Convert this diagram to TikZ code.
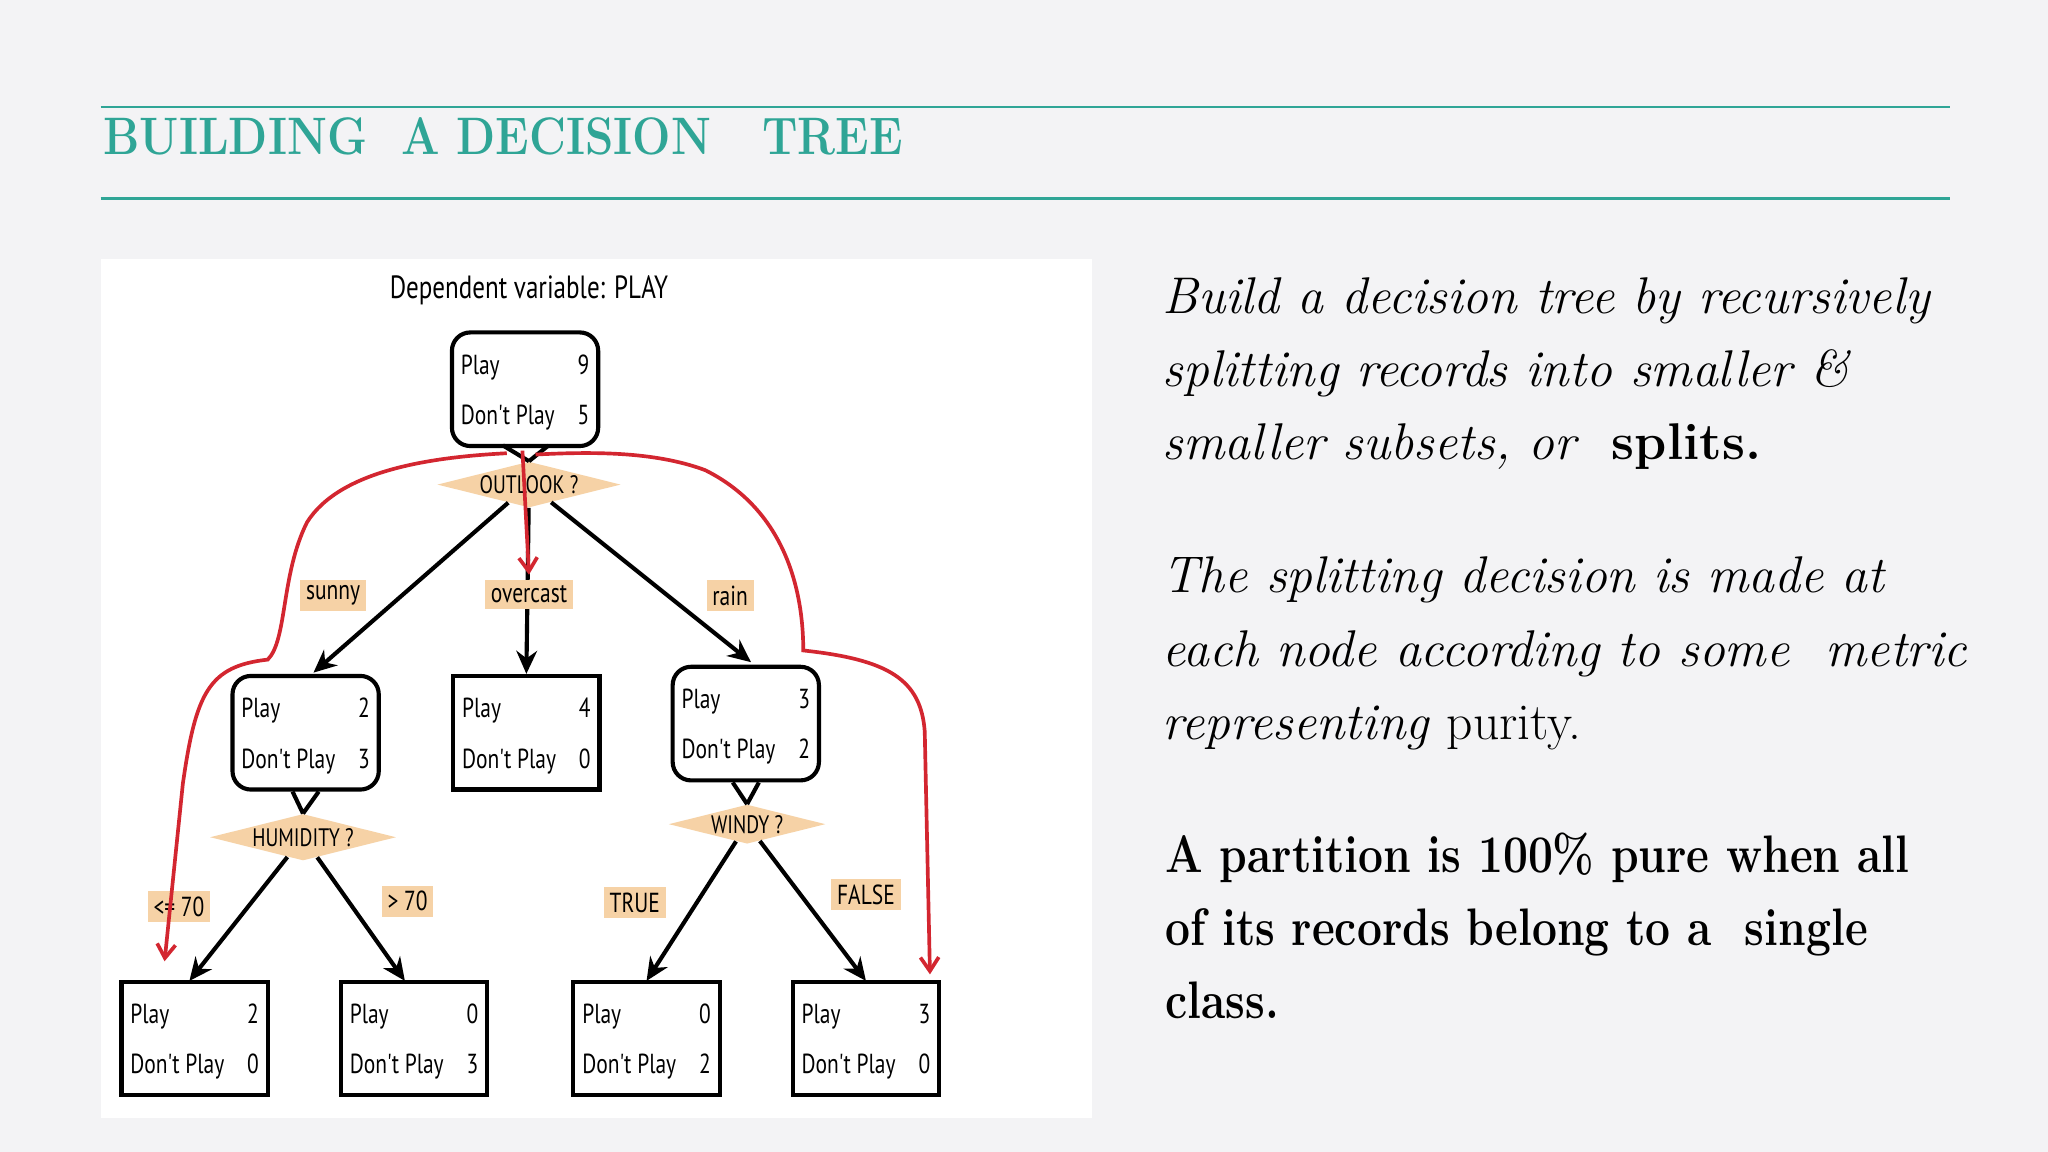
\documentclass[tikz,border=0pt]{standalone}
\usepackage{fontspec}
\setmainfont{Latin Modern Roman}
\newfontfamily\treefont{PT Sans}
\usetikzlibrary{shapes.geometric,arrows.meta}
\definecolor{teal}{HTML}{2FA596}
\definecolor{tan}{HTML}{F6D2A6}
\definecolor{bg}{HTML}{F3F3F5}
\definecolor{redc}{HTML}{D32630}
\newcommand{\nrw}[1]{\scalebox{0.78}[1]{#1}}
\newcommand{\pp}[2]{\nrw{\treefont\fontsize{12}{22}\selectfont\begin{tabular}{@{}l@{\hspace{0.45cm}}r@{}}Play&#1\\Don't Play&#2\end{tabular}}}
\begin{document}
\begin{tikzpicture}[x=0.02cm,y=-0.02cm,
  box/.style={draw,line width=1.8pt,minimum width=2.24cm,minimum height=1.74cm,inner sep=0pt},
  rbox/.style={box,rounded corners=8pt},
  lab/.style={fill=tan,inner sep=2.5pt,font=\treefont\fontsize{12}{13}\selectfont},
  dia/.style={diamond,fill=tan,aspect=4,inner sep=0.5pt,font=\treefont\fontsize{11}{13}\selectfont},
  arr/.style={-{Stealth[length=10pt,width=9pt]},line width=1.8pt},
  red/.style={draw=redc,line width=1.6pt,-{Straight Barb[length=6pt,width=8pt]}},
  rt/.style={anchor=base west,font=\fontsize{22.5}{30}\selectfont\itshape},
  bt/.style={anchor=base west,font=\fontsize{23}{30}\selectfont\bfseries}]
\useasboundingbox (0,0) rectangle (1568,882);
\fill[bg] (0,0) rectangle (1568,882);
\draw[teal,line width=1.2pt] (77,82) -- (1493,82) (77,152) -- (1493,152);
\node[anchor=base west,text=teal,inner sep=0pt,font=\fontsize{23}{30}\selectfont\bfseries] (title) at (79,118) {\scalebox{0.86}[1]{BUILDING\ \ A DECISION\ \ \ TREE}};
\fill[white] (77,198) rectangle (836,856);
\node[font=\treefont\fontsize{14}{16}\selectfont] (dep) at (405,222) {\nrw{Dependent variable: PLAY}};
\node[rbox] (root) at (402,298) {\pp{9}{5}};
\node[dia] (out) at (405,371) {\nrw{OUTLOOK ?}};
\node[rbox] (L) at (234,561) {\pp{2}{3}};
\node[box] (C) at (403,561) {\pp{4}{0}};
\node[rbox] (R) at (571,554) {\pp{3}{2}};
\node[dia] (hum) at (232,641) {\nrw{HUMIDITY ?}};
\node[dia] (win) at (572,631) {\nrw{WINDY ?}};
\node[box] (L1) at (149,795) {\pp{2}{0}};
\node[box] (L2) at (317,795) {\pp{0}{3}};
\node[box] (L3) at (495,795) {\pp{0}{2}};
\node[box] (L4) at (663,795) {\pp{3}{0}};
\draw[line width=1.8pt] (385,341) -- (out.north) (420,341) -- (out.north);
\draw[line width=1.8pt] (L.south) ++(-10,0) -- (hum.north) (L.south) ++(10,0) -- (hum.north);
\draw[line width=1.8pt] (R.south) ++(-10,0) -- (win.north) (R.south) ++(10,0) -- (win.north);
\draw[arr] (out) -- (240,515);
\draw[arr] (out) -- (C.north);
\draw[arr] (out) -- (575,507);
\draw[arr] (hum) -- (145,751);
\draw[arr] (hum) -- (310,751);
\draw[arr] (win) -- (495,751);
\draw[arr] (win) -- (663,751);
\node[lab] (sunny) at (255,456) {\nrw{sunny}};
\node[lab] (overcast) at (405,455) {\nrw{overcast}};
\node[lab] (rain) at (559,456) {\nrw{rain}};
\node[lab] (le) at (137,694) {\nrw{<= 70}};
\node[lab] (gt) at (312,690) {\nrw{> 70}};
\node[lab] (tr) at (486,691) {\nrw{TRUE}};
\node[lab] (fa) at (663,685) {\nrw{FALSE}};
\coordinate (r1) at (388,347);
\coordinate (r1e) at (126,736);
\draw[red] (r1) .. controls (330,350) and (260,360) .. (235,400) .. controls (215,440) and (220,490) .. (205,505) .. controls (160,510) and (150,530) .. (140,600) -- (r1e);
\coordinate (r2) at (400,345);
\coordinate (r2e) at (405,440);
\draw[red] (r2) -- (r2e);
\coordinate (r3) at (410,348);
\coordinate (r3e) at (712,746);
\draw[red] (r3) .. controls (450,346) and (500,345) .. (540,360) .. controls (600,390) and (615,450) .. (615,498) .. controls (680,505) and (705,520) .. (708,560) -- (r3e);
\node[rt] (p1) at (884,240) {Build a decision tree by recursively};
\node[rt] (p2) at (884,296) {splitting records into smaller \&};
\node[rt] (p3) at (884,352) {smaller subsets, or \ \upshape\bfseries splits.};
\node[rt] (p4) at (884,454) {The splitting decision is made at};
\node[rt] (p5) at (884,510) {each node according to some \ metric};
\node[rt] (p6) at (884,566) {representing \upshape purity.};
\node[bt] (p7) at (886,668) {\scalebox{0.84}[1]{A partition is 100\% pure when all}};
\node[bt] (p8) at (886,724) {\scalebox{0.84}[1]{of its records belong to a \ single}};
\node[bt] (p9) at (886,780) {\scalebox{0.84}[1]{class.}};
\end{tikzpicture}
\end{document}
